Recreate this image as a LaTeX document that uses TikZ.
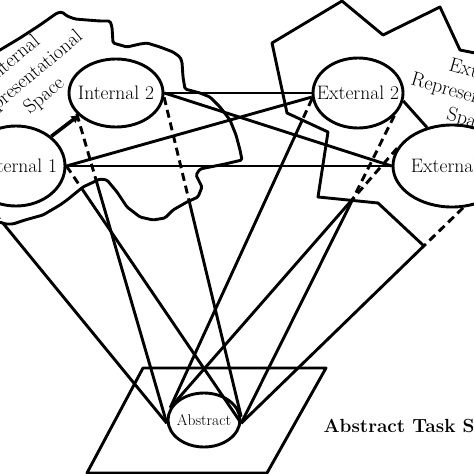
\documentclass[tikz,border=0pt]{standalone}
\usetikzlibrary{calc,arrows.meta,shapes.geometric}
\begin{document}
\begin{tikzpicture}[x=1pt,y=1pt,
  conn/.style={line width=2.9pt},
  dashconn/.style={line width=2.9pt, dash pattern=on 8pt off 5pt},
  outline/.style={line width=2.9pt, line join=round},
  labfont/.style={font=\fontsize{19.5}{22}\selectfont},
  oval/.style={ellipse, draw, line width=2.9pt, fill=white, inner sep=0pt},
  cloudtext/.style={align=center, font=\fontsize{20}{24}\selectfont}]
\useasboundingbox (0,-474) rectangle (474,0);
\clip (0,-474) rectangle (474,0);

% internal representational space (left cloud)
\draw[outline, rounded corners=1.5pt] (-30,-68) -- (0,-50) -- (20,-38) -- (40,-25) -- (57,-13) -- (62,-12) -- (67,-16) -- (75,-19) -- (87,-20) -- (100,-21) -- (110,-21) -- (112,-27) -- (113,-43) -- (127,-47) -- (140,-44) -- (147,-43) -- (160,-47) -- (173,-52) -- (180,-57) -- (182,-62) -- (183,-77) -- (185,-89) -- (200,-93) -- (210,-97) -- (220,-107) -- (230,-120) -- (236,-135) -- (240,-150) -- (242,-160) -- (225,-164) -- (200,-169) -- (196,-175) -- (202,-187) -- (198,-197) -- (187,-202) -- (173,-210) -- (165,-218) -- (153,-220) -- (140,-217) -- (127,-207) -- (117,-192) -- (107,-180) -- (100,-179) -- (83,-187) -- (67,-200) -- (60,-205) -- (43,-215) -- (25,-220) -- (13,-224) -- (5,-224) -- (0,-222) -- (-30,-225) -- cycle;

% external representational space (right polygon)
\draw[outline] (490,-56) -- (460,-50) -- (440,-7) -- (383,-35) -- (342,-1) -- (272,-43) -- (287,-113) -- (328,-132) -- (318,-197) -- (378,-203) -- (424,-246);

% abstract task space
\draw[outline] (143,-368) -- (326,-368) -- (267,-473) -- (87,-473) -- cycle;

% nodes
\node[oval, minimum width=98pt, minimum height=80pt, label={[labfont, xshift=3pt]center:Internal 1}] (i1) at (16,-166) {};
\node[oval, minimum width=94pt, minimum height=68pt, label={[labfont]center:Internal 2}] (i2) at (116,-93) {};
\node[oval, minimum width=90pt, minimum height=70pt, label={[labfont]center:External 2}] (e2) at (358,-93) {};
\node[oval, minimum width=118pt, minimum height=82pt, label={[labfont]center:External 1}] (e1) at (452,-166) {};
\node[oval, minimum width=72pt, minimum height=54pt, label={[font=\fontsize{15.5}{18}\selectfont]center:Abstract}] (abs) at (204,-420) {};

\node[cloudtext, rotate=40] (irs) at (29,-78) {Internal\\Representational\\Space};
\node[cloudtext, rotate=-16] (ers) at (476,-98) {External\\Representational\\Space};
\node[anchor=base west, font=\fontsize{19}{22}\selectfont\bfseries] (ats) at (320,-432) {Abstract Task Space};

% attachment points on the abstract node
\coordinate (aL) at (abs.185);
\coordinate (aTL) at (abs.160);
\coordinate (aTR) at (abs.5);
\coordinate (aR) at (abs.-5);

% connectors between representations
\draw[line width=3.6pt, -{Triangle[length=7pt,width=8pt]}] (i1.40) -- (i2.211);
\draw[conn] (i2.east) -- (e2.west);
\draw[conn] (i2.east) -- (e1.west);
\draw[conn] (i1.east) -- (e1.west);
\draw[conn] (i1.east) -- (e2.185);
\draw[conn] (e2.-10) -- (e1.123);

% projections onto the abstract space (dashed inside the clouds)
\coordinate (s1) at ($(i1.200)!0.17!(aL)$);
\draw[dashconn] (i1.200) -- (s1); \draw[conn] (s1) -- (aL);
\coordinate (s2) at ($(i2.208)!0.216!(aL)$);
\draw[dashconn] (i2.208) -- (s2); \draw[conn] (s2) -- (aL);
\coordinate (s3) at ($(i1.east)!0.09!(aR)$);
\draw[dashconn] (i1.east) -- (s3); \draw[conn] (s3) -- (aR);
\coordinate (s4) at ($(i2.-5)!0.326!(aTR)$);
\draw[dashconn] (i2.-5) -- (s4); \draw[conn] (s4) -- (aTR);
\coordinate (s5) at ($(e2.187)!0.071!(aTL)$);
\draw[dashconn] (e2.187) -- (s5); \draw[conn] (s5) -- (aTL);
\coordinate (s6) at ($(e2.-32)!0.277!(aR)$);
\draw[dashconn] (e2.-32) -- (s6); \draw[conn] (s6) -- (aR);
\coordinate (s7) at ($(e1.162)!0.2!(aTL)$);
\draw[dashconn] (e1.162) -- (s7); \draw[conn] (s7) -- (aTL);
\coordinate (s8) at ($(e1.-75)!0.18!(aR)$);
\draw[dashconn] (e1.-75) -- (s8); \draw[conn] (s8) -- (aR);
\end{tikzpicture}
\end{document}
